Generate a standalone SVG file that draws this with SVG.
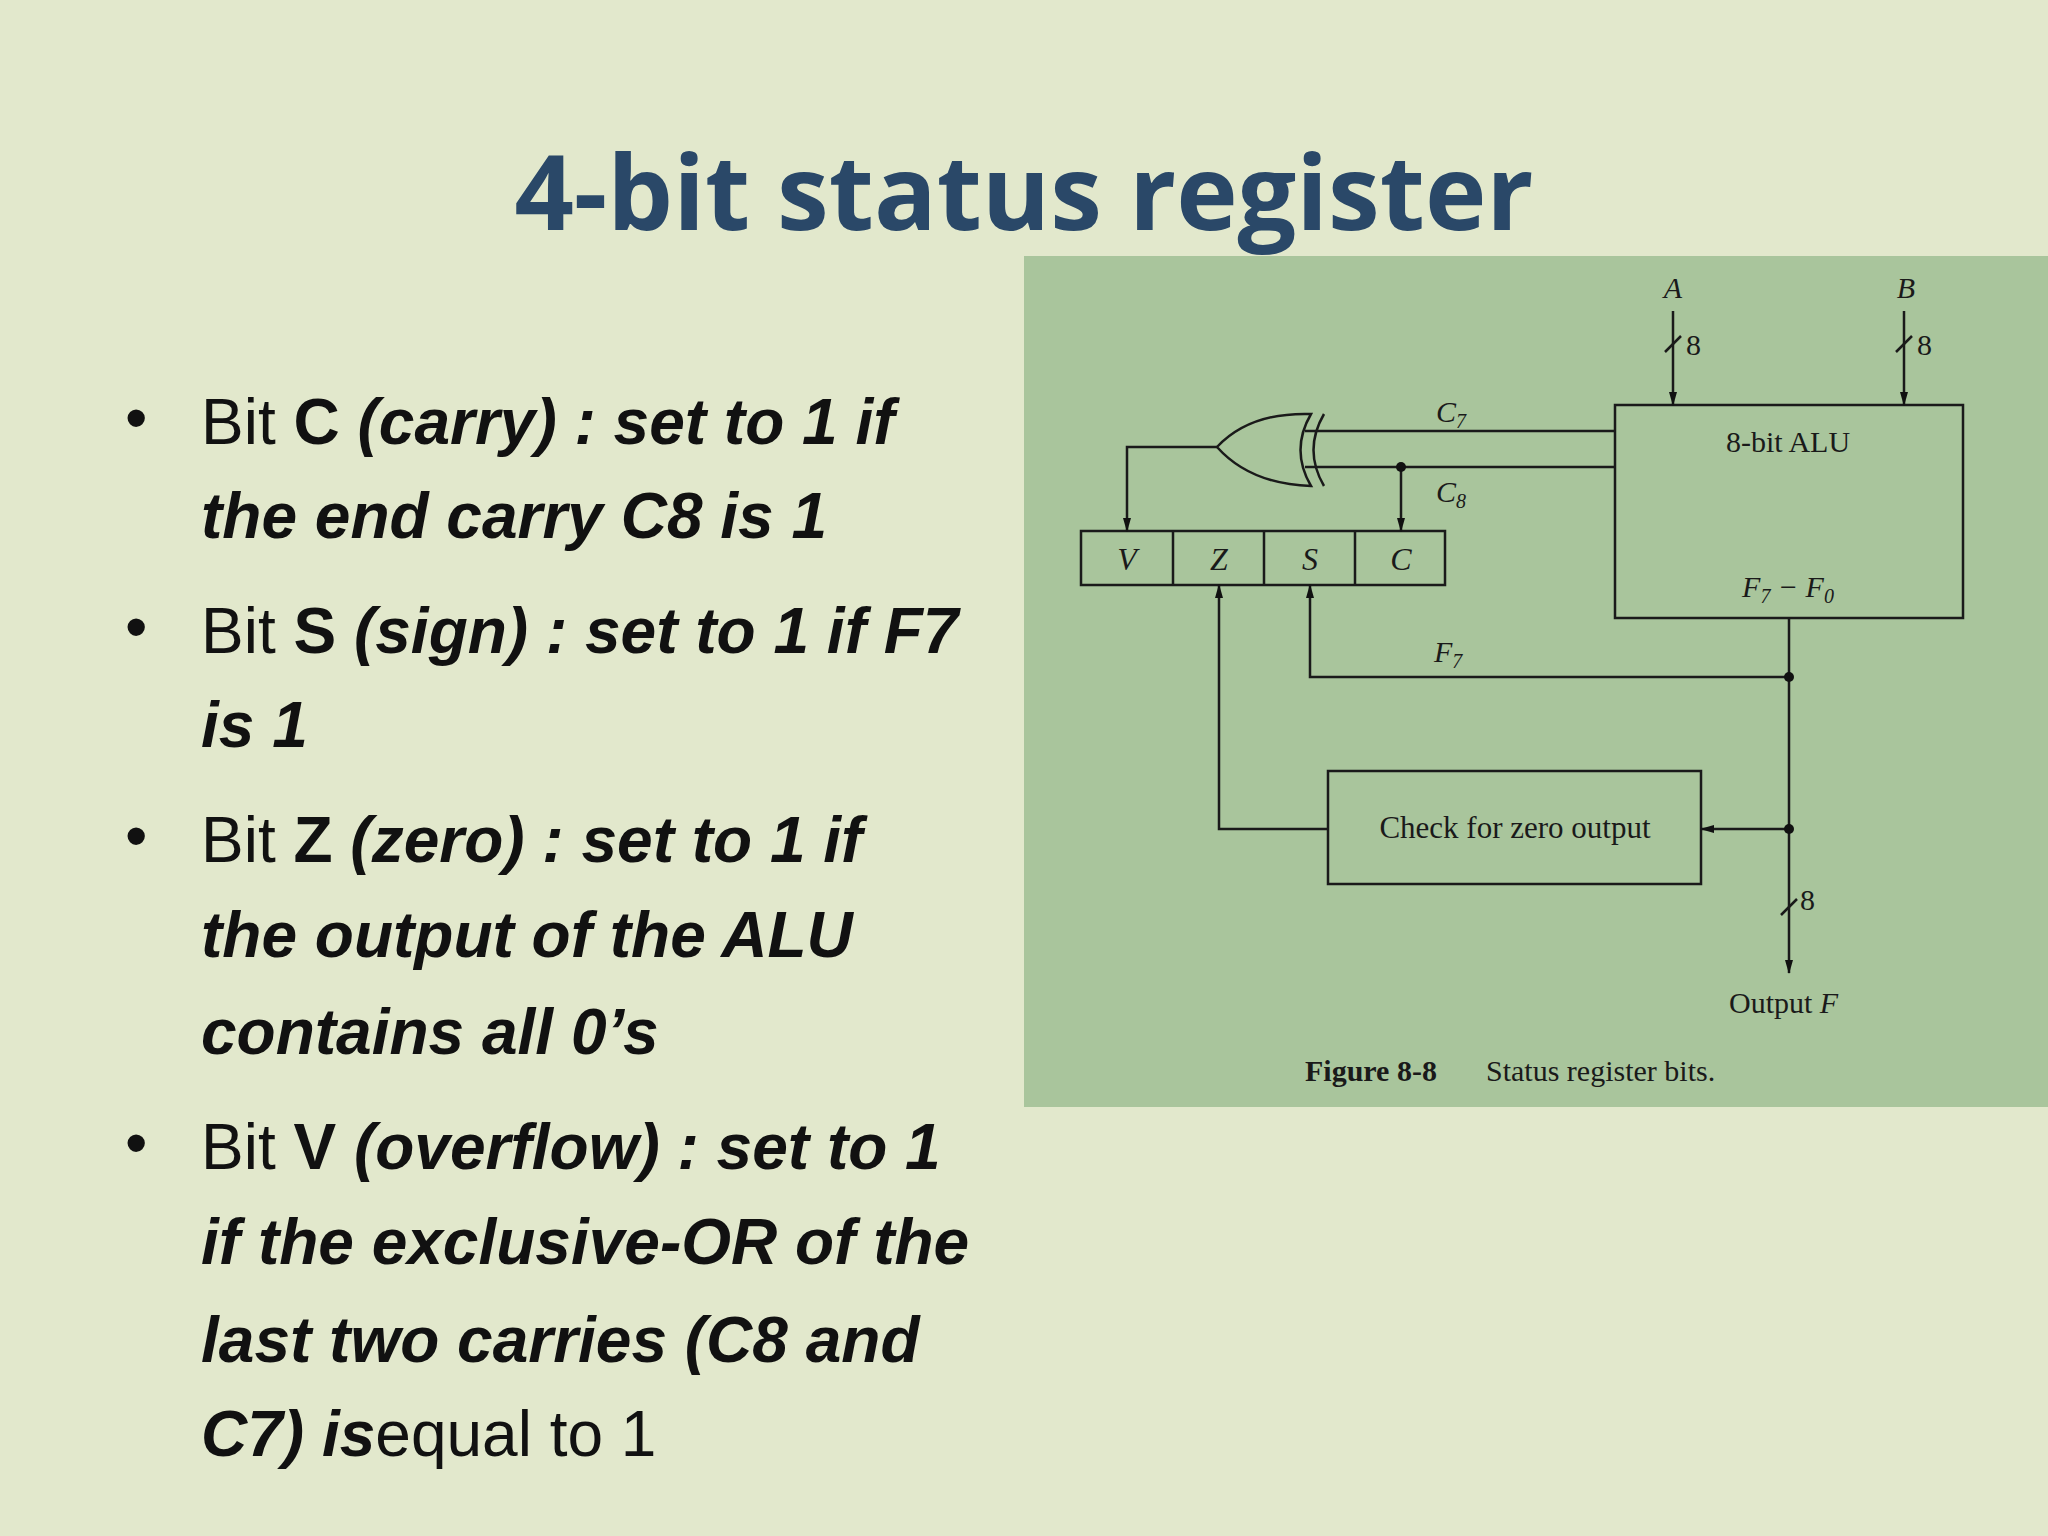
<svg xmlns="http://www.w3.org/2000/svg" width="2048" height="1536" viewBox="0 0 2048 1536">
<defs>
<marker id="ah" markerWidth="14" markerHeight="12" refX="13" refY="6" orient="auto" markerUnits="userSpaceOnUse"><path d="M0,2 L14,6 L0,10 Z" fill="#111"/></marker>
<style>
.b{font-family:"Liberation Sans",Arial,sans-serif;font-size:64px;fill:#111}
.bi{font-weight:bold;font-style:italic}
.bd{font-weight:bold}
.s{font-family:"Liberation Serif","Times New Roman",serif;fill:#1a1a1a}
.l{stroke:#1a1a1a;stroke-width:2.5;fill:none}
</style>
</defs>
<rect width="2048" height="1536" fill="#e2e8cc"/>
<text x="1024" y="230" text-anchor="middle" font-family="'Open Sans','Liberation Sans',sans-serif" font-weight="bold" font-size="104" fill="#2a4868">4-bit status register</text>
<g id="bullets" class="b">
<text x="125" y="440">•</text><text x="125" y="649">•</text><text x="125" y="858">•</text><text x="125" y="1165">•</text>
<text x="201" y="444">Bit <tspan class="bd">C</tspan><tspan class="bi"> (carry) : set to 1 if</tspan></text>
<text x="201" y="538" class="bi">the end carry C8 is 1</text>
<text x="201" y="653">Bit <tspan class="bd">S</tspan><tspan class="bi"> (sign) : set to 1 if F7</tspan></text>
<text x="201" y="747" class="bi">is 1</text>
<text x="201" y="862">Bit <tspan class="bd">Z</tspan><tspan class="bi"> (zero) : set to 1 if</tspan></text>
<text x="201" y="957" class="bi">the output of the ALU</text>
<text x="201" y="1054" class="bi">contains all 0’s</text>
<text x="201" y="1169">Bit <tspan class="bd">V</tspan><tspan class="bi"> (overflow) : set to 1</tspan></text>
<text x="201" y="1264" class="bi">if the exclusive-OR of the</text>
<text x="201" y="1362" class="bi">last two carries (C8 and</text>
<text x="201" y="1456"><tspan class="bi">C7) is</tspan>equal to 1</text>
</g>
<rect x="1024" y="256" width="1024" height="851" fill="#a9c59c"/>
<g id="alu"><rect x="1615" y="405" width="348" height="213" class="l"/>
<text x="1788" y="452" text-anchor="middle" class="s" font-size="30">8-bit ALU</text>
<text x="1788" y="597" text-anchor="middle" class="s" font-size="30" font-style="italic">F<tspan font-size="20" dy="6">7</tspan><tspan dy="-6"> − F</tspan><tspan font-size="20" dy="6">0</tspan></text></g>
<g id="register"><rect x="1081" y="531" width="364" height="54" class="l"/>
<path d="M1173,531V585M1264,531V585M1355,531V585" class="l"/>
<g class="s" font-size="32" font-style="italic" text-anchor="middle"><text x="1127" y="570">V</text><text x="1219" y="570">Z</text><text x="1310" y="570">S</text><text x="1401" y="570">C</text></g></g>
<g id="xor"><path d="M1311,414 Q1250,412 1217,447 Q1250,484 1311,486 Q1290,450 1311,414 Z" class="l"/>
<path d="M1324,414 Q1303,450 1324,486" class="l"/></g>
<g id="check"><rect x="1328" y="771" width="373" height="113" class="l"/>
<text x="1515" y="838" text-anchor="middle" class="s" font-size="31">Check for zero output</text></g>
<g id="connectors">
<path d="M1673,311V405" class="l" marker-end="url(#ah)"/>
<path d="M1904,311V405" class="l" marker-end="url(#ah)"/>
<path d="M1665,352L1681,336M1896,352L1912,336M1781,915L1797,899" class="l"/>
<path d="M1615,431H1305M1615,467H1305" class="l"/>
<path d="M1217,447H1127V531" class="l" marker-end="url(#ah)"/>
<path d="M1401,467V531" class="l" marker-end="url(#ah)"/>
<circle cx="1401" cy="467" r="5" fill="#111"/>
<path d="M1789,618V973" class="l" marker-end="url(#ah)"/>
<path d="M1789,677H1310V585" class="l" marker-end="url(#ah)"/>
<path d="M1789,829H1701" class="l" marker-end="url(#ah)"/>
<path d="M1328,829H1219V585" class="l" marker-end="url(#ah)"/>
<circle cx="1789" cy="677" r="5" fill="#111"/><circle cx="1789" cy="829" r="5" fill="#111"/>
</g>
<g class="s" font-size="30">
<text x="1673" y="298" text-anchor="middle" font-style="italic">A</text>
<text x="1906" y="298" text-anchor="middle" font-style="italic">B</text>
<text x="1686" y="355">8</text><text x="1917" y="355">8</text><text x="1800" y="910">8</text>
<text x="1436" y="422" font-style="italic">C<tspan font-size="20" dy="6">7</tspan></text>
<text x="1436" y="502" font-style="italic">C<tspan font-size="20" dy="6">8</tspan></text>
<text x="1434" y="662" font-style="italic">F<tspan font-size="20" dy="6">7</tspan></text>
<text x="1729" y="1013">Output <tspan font-style="italic">F</tspan></text>
<text x="1305" y="1081"><tspan font-weight="bold">Figure 8-8</tspan><tspan x="1486">Status register bits.</tspan></text>
</g>
</svg>
